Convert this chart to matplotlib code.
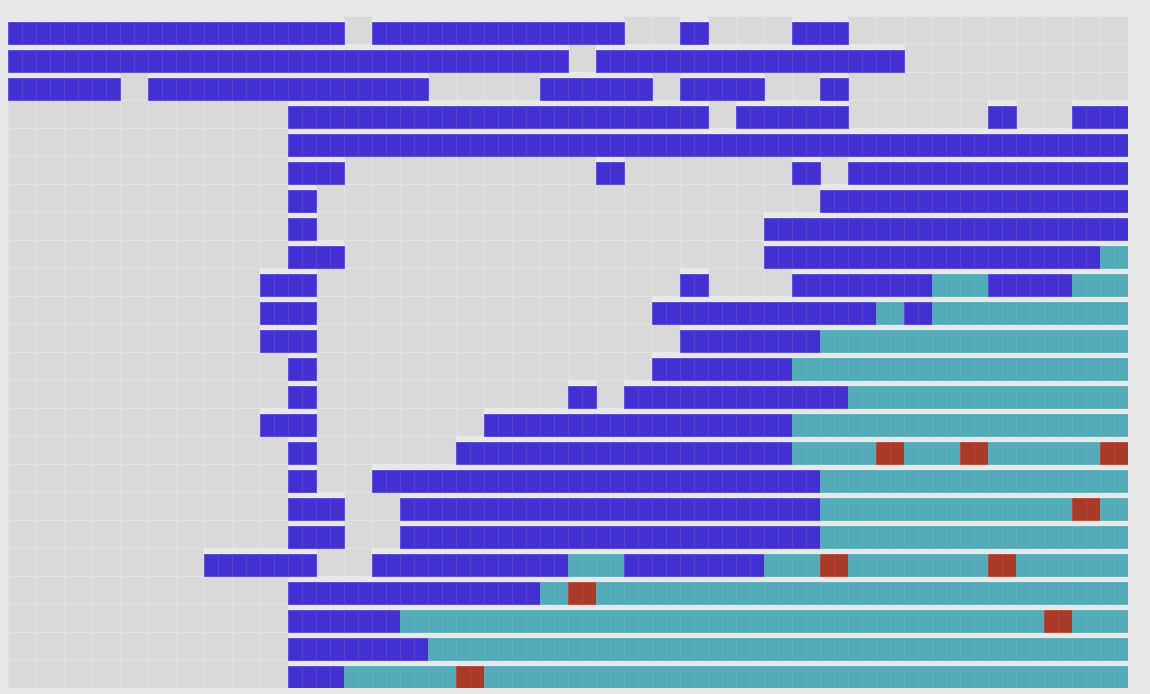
import matplotlib
matplotlib.use("Agg")
import matplotlib.pyplot as plt
from matplotlib.patches import Rectangle

# ---- data: one string per row, one character per column ----
# '.' = empty, 'B' = blue state, 'T' = teal state, 'R' = red state
row_codes = [
    "B"*12 + "." + "B"*9 + ".."  + "B" + "..." + "BB" + "."*10,
    "B"*20 + "." + "B"*11 + "."*8,
    "B"*4 + "." + "B"*10 + "."*4 + "B"*4 + "." + "B"*3 + ".." + "B" + "."*10,
    "."*10 + "B"*15 + "." + "B"*4 + "."*5 + "B" + ".." + "BB",
    "."*10 + "B"*30,
    "."*10 + "BB" + "."*9 + "B" + "."*6 + "B" + "." + "B"*10,
    "."*10 + "B" + "."*18 + "B"*11,
    "."*10 + "B" + "."*16 + "B"*13,
    "."*10 + "BB" + "."*15 + "B"*12 + "T",
    "."*9 + "BB" + "."*13 + "B" + "..." + "B"*5 + "TT" + "BBB" + "TT",
    "."*9 + "BB" + "."*12 + "B"*8 + "T" + "B" + "T"*7,
    "."*9 + "BB" + "."*13 + "B"*5 + "T"*11,
    "."*10 + "B" + "."*12 + "B"*5 + "T"*12,
    "."*10 + "B" + "."*9 + "B" + "." + "B"*8 + "T"*10,
    "."*9 + "BB" + "."*6 + "B"*11 + "T"*12,
    "."*10 + "B" + "."*5 + "B"*12 + "TTT" + "R" + "TT" + "R" + "T"*4 + "R",
    "."*10 + "B" + ".." + "B"*16 + "T"*11,
    "."*10 + "BB" + ".." + "B"*15 + "T"*9 + "R" + "T",
    "."*10 + "BB" + ".." + "B"*15 + "T"*11,
    "."*7 + "B"*4 + ".." + "B"*7 + "TT" + "B"*5 + "TT" + "R" + "T"*5 + "R" + "T"*4,
    "."*10 + "B"*9 + "T" + "R" + "T"*19,
    "."*10 + "B"*4 + "T"*23 + "R" + "TT",
    "."*10 + "B"*5 + "T"*25,
    "."*10 + "BB" + "T"*4 + "R" + "T"*23,
]
n_rows = len(row_codes)
n_cols = 40

state_colors = {"B": "#4230D2", "T": "#53AAB8", "R": "#A93A27"}
state_edges = {"B": "#5646D8", "T": "#5DB0BD", "R": "#B5493A"}
bg = "#E8E8E8"
empty_fill = "#D9D9D9"
empty_edge = "#E1E1E1"

W, H = 1150, 694
fig = plt.figure(figsize=(W/100, H/100), dpi=100)
fig.patch.set_facecolor(bg)
left, right, top, bottom = 8, 1128, 16, 688
ax = fig.add_axes([left/W, (H-bottom)/H, (right-left)/W, (bottom-top)/H])
ax.set_xlim(0, n_cols)
ax.set_ylim(n_rows, 0)
ax.axis("off")
ax.set_facecolor(bg)

band = 6/28.0
for r, codes in enumerate(row_codes):
    assert len(codes) == n_cols, (r, len(codes))
    for c, ch in enumerate(codes):
        ax.add_patch(Rectangle((c, r), 1, 1, facecolor=empty_fill,
                               edgecolor=empty_edge, linewidth=0.9, zorder=1))

for r, codes in enumerate(row_codes):
    for c, ch in enumerate(codes):
        if ch == ".":
            continue
        ax.add_patch(Rectangle((c, r), 1, band, facecolor=bg,
                               edgecolor="none", linewidth=0, zorder=2))
        for j in range(2):
            ax.add_patch(Rectangle((c + 0.5*j, r + band), 0.5, 1 - band,
                                   facecolor=state_colors[ch],
                                   edgecolor=state_edges[ch],
                                   linewidth=0.6, zorder=3))

fig.savefig("out.png", dpi=100, facecolor=bg)
